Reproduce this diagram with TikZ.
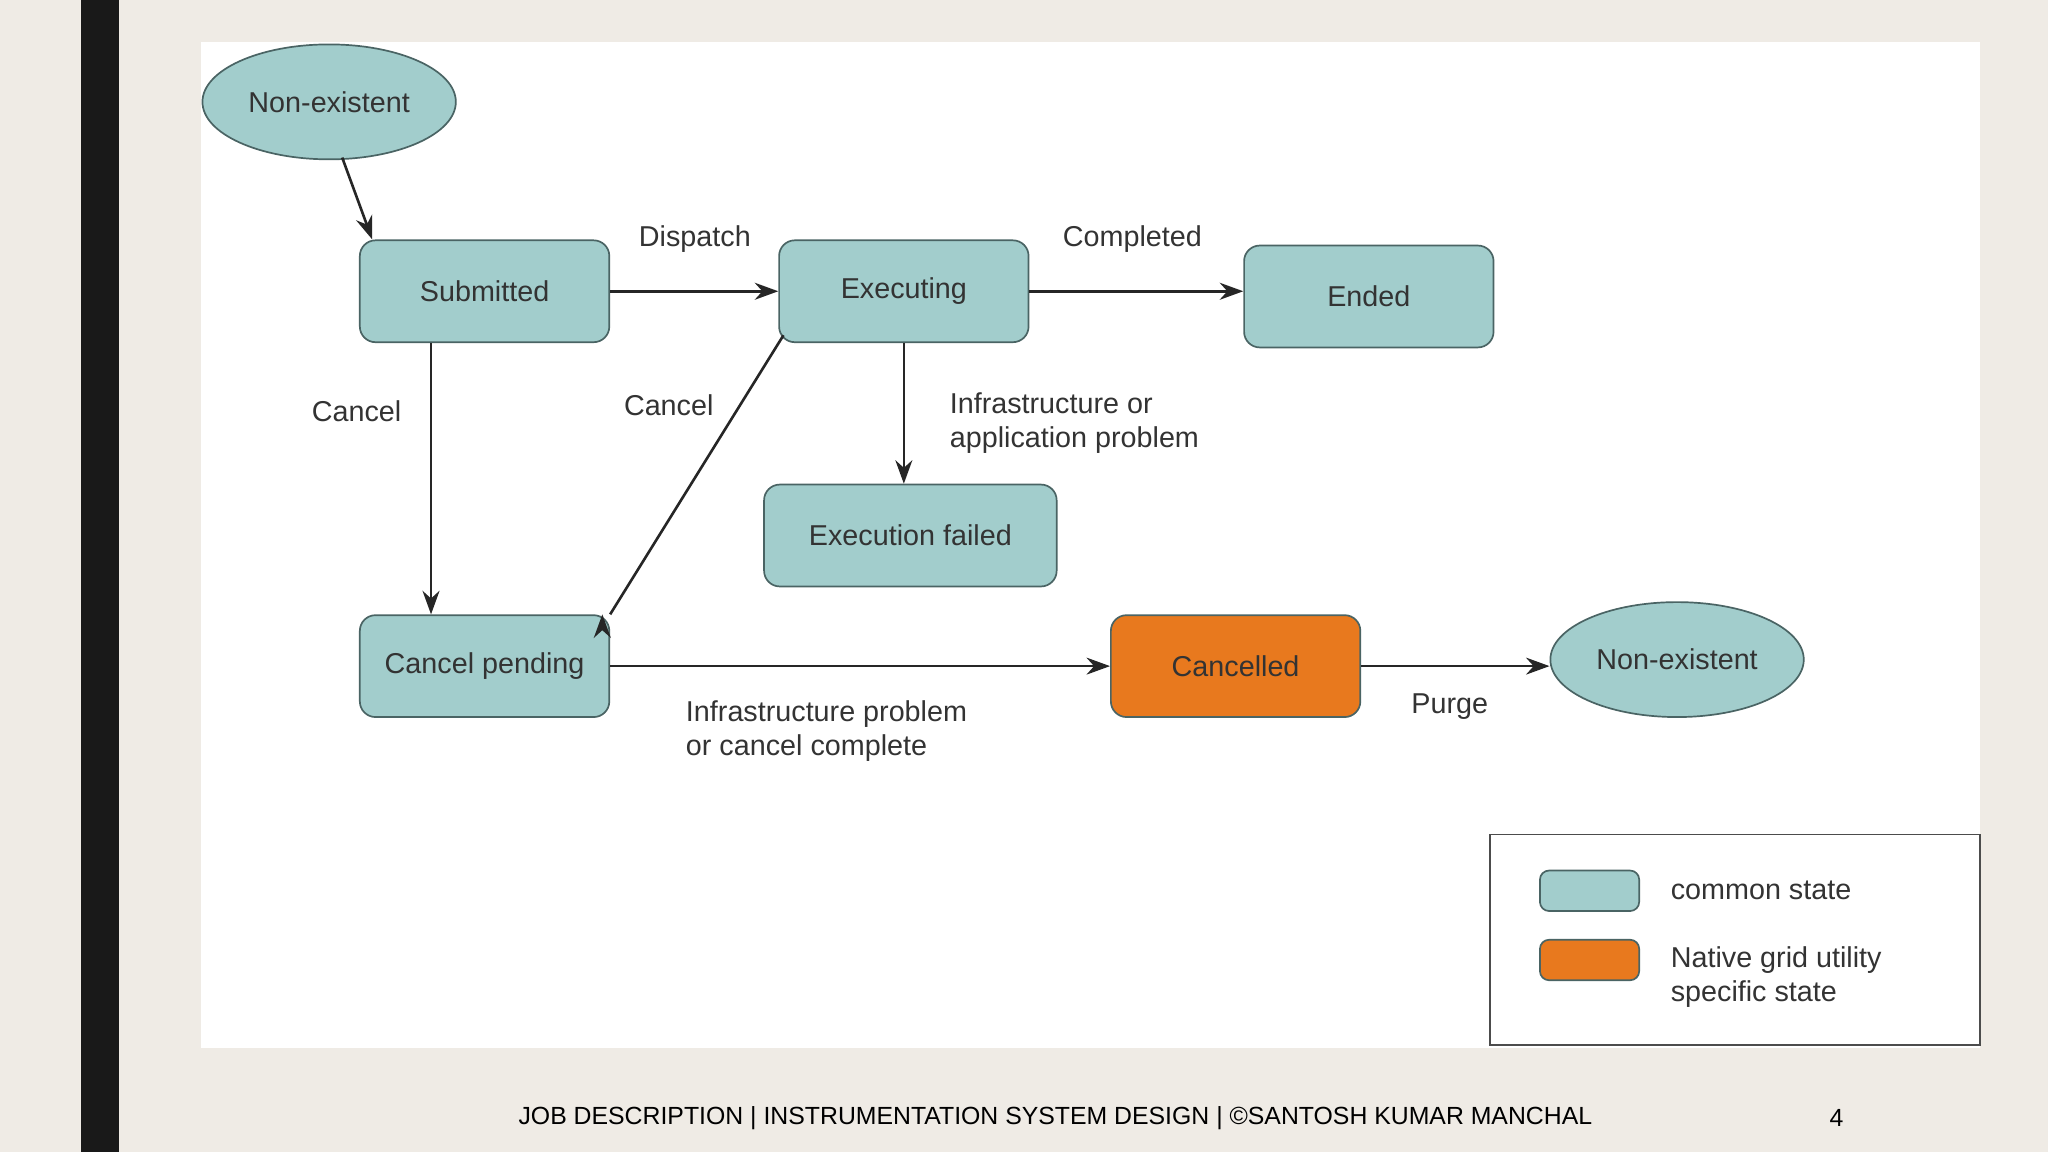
\documentclass[tikz,border=0pt]{standalone}
\usepackage{fontspec}
\setmainfont{Liberation Sans}
\usetikzlibrary{arrows.meta,shapes.geometric}
\definecolor{bg}{HTML}{EFEBE5}
\definecolor{teal}{HTML}{A2CDCC}
\definecolor{edge}{HTML}{4A6464}
\definecolor{orng}{HTML}{E8791E}
\definecolor{txt}{HTML}{333333}
\tikzset{
 st/.style={draw=edge,line width=1.3pt,fill=teal,rounded corners=12pt,minimum width=191pt,minimum height=78pt,inner sep=0pt,text=txt,font=\fontsize{22}{26}\selectfont},
 ell/.style={draw=edge,line width=1.3pt,fill=teal,ellipse,minimum width=194pt,minimum height=88pt,inner sep=0pt,text=txt,font=\fontsize{22}{26}\selectfont},
 lbl/.style={text=txt,font=\fontsize{22}{26}\selectfont,inner sep=0pt},
 arr/.style={-{Stealth[length=18pt,width=13pt]},line width=2pt,draw=black!85}
}
\begin{document}
\begin{tikzpicture}[x=1pt,y=-1pt]
\useasboundingbox (0,0) rectangle (1568,882);
\fill[bg] (0,0) rectangle (1568,882);
\fill[black!90] (62,0) rectangle (91,882);
\fill[white] (154,32) rectangle (1516,802);
\node[ell] (ne1) at (252,78) {Non-existent};
\node[st] (sub) at (371,223) {Submitted};
\node[st] (exe) at (692,223) {Executing};
\node[st] (end) at (1048,227) {Ended};
\node[st,minimum width=224pt] (fail) at (697,410) {Execution failed};
\node[st] (cp) at (371,510) {Cancel pending};
\node[st,fill=orng] (can) at (946,510) {Cancelled};
\node[ell] (ne2) at (1284,505) {Non-existent};
\draw[arr] (ne1.south-|262,0) ++(0,-2) coordinate (a1) (a1) -- (sub.north west-|285,0);
\draw[arr] (sub.east) -- (exe.west);
\draw[arr] (exe.east) -- (end.west|-exe.east);
\draw[arr] (sub.south-|330,0) -- (cp.north-|330,0);
\draw[arr] (exe.south west)++(4,-6) coordinate (a2) (a2) -- (cp.north east)++(-6,0);
\draw[arr] (exe.south) -- (fail.north-|exe.south);
\draw[arr] (cp.east) -- (can.west);
\draw[arr] (can.east) -- (ne2.west|-can.east);
\node[lbl] (l1) at (532,183) {Dispatch};
\node[lbl] (l2) at (867,183) {Completed};
\node[lbl] (l3) at (273,315) {Cancel};
\node[lbl] (l4) at (512,310) {Cancel};
\node[lbl,anchor=west,align=left] (l5) at (727,324) {Infrastructure or\\application problem};
\node[lbl,anchor=west,align=left] (l6) at (525,560) {Infrastructure problem\\or cancel complete};
\node[lbl] (l7) at (1110,541) {Purge};
\draw[draw=black!70,line width=1.3pt] (1141,639) rectangle (1516,800);
\node[st,minimum width=76pt,minimum height=31pt,rounded corners=7pt] (k1) at (1217,682) {};
\node[st,fill=orng,minimum width=76pt,minimum height=31pt,rounded corners=7pt] (k2) at (1217,735) {};
\node[lbl,anchor=west] (k1t) at (1279,682) {common state};
\node[lbl,anchor=west,align=left] (k2t) at (1279,748) {Native grid utility\\specific state};
\node[text=black,font=\fontsize{19}{22}\selectfont,inner sep=0pt] (ft) at (808,856) {JOB DESCRIPTION | INSTRUMENTATION SYSTEM DESIGN | ©SANTOSH KUMAR MANCHAL};
\node[text=black,font=\fontsize{19}{22}\selectfont,inner sep=0pt] (pg) at (1406,856) {4};
\end{tikzpicture}
\end{document}
